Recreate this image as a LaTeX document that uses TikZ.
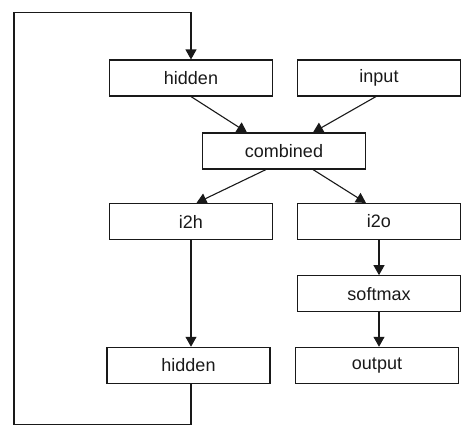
\documentclass[tikz,border=0pt]{standalone}
\usepackage{fontspec}
\setmainfont{Liberation Sans}
\usetikzlibrary{arrows.meta,calc}
\begin{document}
\begin{tikzpicture}[x=1pt,y=-1pt,
  box/.style={draw=black!90,line width=1.1pt,minimum width=163pt,minimum height=36pt,inner sep=0pt,
    font=\fontsize{18}{21}\selectfont,text=black!90},
  arr/.style={draw=black!90,line width=1.1pt,-{Triangle[length=10pt,width=11pt]}},
  loopline/.style={draw=black!90,line width=1.1pt}]
\useasboundingbox (0,0) rectangle (474,437);
\node[box] (hiddenT) at (191,78) {hidden};
\node[box] (input) at (379,78) {input};
\node[box] (combined) at (284,151) {combined};
\node[box] (i2h) at (191,221.5) {i2h};
\node[box] (i2o) at (379,221.5) {i2o};
\node[box] (softmax) at (379,293.7) {softmax};
\node[box] (hiddenB) at (188.5,365.3) {hidden};
\node[box] (output) at (377,365.3) {output};
% arrows
\draw[arr] (hiddenT.south) -- ($(combined.north)+(-37,0)$);
\draw[arr] ($(input.south)+(-3,0)$) -- ($(combined.north)+(29,0)$);
\draw[arr] ($(combined.south)+(-18,0)$) -- ($(i2h.north)+(5.5,0)$);
\draw[arr] ($(combined.south)+(29,0)$) -- ($(i2o.north)+(-13,0)$);
\draw[arr] (i2h.south) -- (i2h.south |- hiddenB.north);
\draw[arr] (i2o.south) -- (softmax.north);
\draw[arr] (softmax.south) -- (softmax.south |- output.north);
% loop back
\coordinate (lb) at (191,424.3);
\coordinate (ll) at (14,424.3);
\coordinate (lt) at (14,12.3);
\coordinate (lr) at (191,12.3);
\draw[loopline] (i2h.south |- hiddenB.south) -- (lb) -- (ll) -- (lt) -- (lr);
\draw[arr] (lr) -- (hiddenT.north);
\end{tikzpicture}
\end{document}
